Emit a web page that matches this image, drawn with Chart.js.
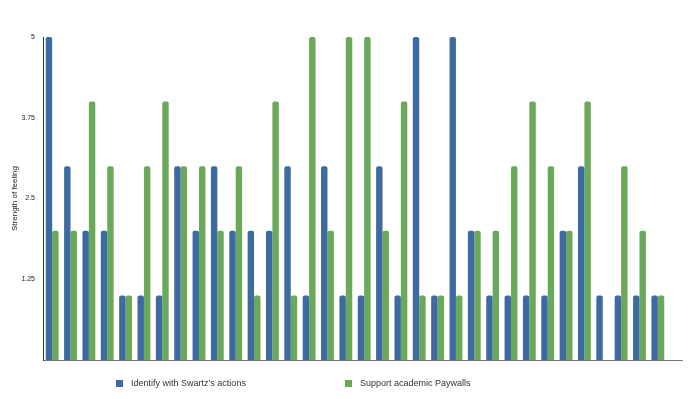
<!DOCTYPE html>
<html>
<head>
<meta charset="utf-8">
<script src="https://cdn.jsdelivr.net/npm/chart.js@4"></script>
<style>
  html, body { margin: 0; padding: 0; background: #fff; }
  #wrap { position: relative; width: 700px; height: 399px; }
  #legend { position: absolute; left: 0; top: 378px; width: 700px; font-family: "Liberation Sans", Arial, sans-serif; font-size: 9px; color: #333; }
  .item { position: absolute; top: 0; display: flex; align-items: center; }
  .box { width: 7px; height: 7px; margin-right: 8px; }
</style>
</head>
<body>
<div id="wrap">
  <canvas id="chart" width="700" height="399"></canvas>
  <div id="legend"></div>
</div>
<script>
const categorias = Array.from({ length: 34 }, (_, i) => String(i + 1));
const swartz = [5, 3, 2, 2, 1, 1, 1, 3, 2, 3, 2, 2, 2, 3, 1, 3, 1, 1, 3, 1, 5, 1, 5, 2, 1, 1, 1, 1, 2, 3, 1, 1, 1, 1];
const paywalls = [2, 2, 4, 3, 1, 3, 4, 3, 3, 2, 3, 1, 4, 1, 5, 2, 5, 5, 2, 4, 1, 1, 1, 2, 2, 3, 4, 3, 2, 4, 0, 3, 2, 1];
const ticksY = [1.25, 2.5, 3.75, 5];
const nombres = ["Identify with Swartz\u2019s actions", "Support academic Paywalls"];
const colores = ["#3d6aa1", "#6aa85a"];

// extiende la linea del eje x hacia la derecha, como en la imagen
const ejeExtendido = {
  id: "ejeExtendido",
  afterDraw(chart) {
    const { ctx, chartArea } = chart;
    ctx.save();
    ctx.strokeStyle = "#777";
    ctx.lineWidth = 1;
    ctx.beginPath();
    ctx.moveTo(chartArea.left, chartArea.bottom + 0.5);
    ctx.lineTo(683, chartArea.bottom + 0.5);
    ctx.stroke();
    ctx.beginPath();
    ctx.strokeStyle = "#333";
    ctx.moveTo(chartArea.left + 0.5, chartArea.top);
    ctx.lineTo(chartArea.left + 0.5, chartArea.bottom + 1);
    ctx.stroke();
    ctx.restore();
  }
};

const grafico = new Chart(document.getElementById("chart"), {
  type: "bar",
  data: {
    labels: categorias,
    datasets: [
      { label: nombres[0], data: swartz, backgroundColor: colores[0] },
      { label: nombres[1], data: paywalls, backgroundColor: colores[1] }
    ]
  },
  options: {
    responsive: false,
    animation: false,
    layout: { padding: { left: 0, right: 33, top: 37, bottom: 39 } },
    datasets: {
      bar: { categoryPercentage: 0.7, barPercentage: 1, borderRadius: { topLeft: 2, topRight: 2 }, borderSkipped: "bottom" }
    },
    plugins: { legend: { display: false }, tooltip: { enabled: false } },
    scales: {
      x: {
        grid: { display: false, drawTicks: false },
        border: { display: false },
        ticks: { display: false }
      },
      y: {
        min: 0,
        max: 5,
        afterBuildTicks: (scale) => { scale.ticks = ticksY.map(v => ({ value: v })); },
        afterFit: (scale) => { scale.width = 43; },
        grid: { display: false, drawTicks: false },
        border: { display: false },
        ticks: {
          padding: 8,
          color: "#222",
          font: { family: "Liberation Sans", size: 7 },
          callback: (v) => String(v)
        },
        title: {
          display: true,
          text: "Strength of feeling",
          color: "#222",
          font: { family: "Liberation Sans", size: 8 },
          padding: { top: 10, bottom: 0 }
        }
      }
    }
  },
  plugins: [ejeExtendido]
});

const leyenda = document.getElementById("legend");
const posiciones = [116, 345];
grafico.data.datasets.forEach((d, i) => {
  const el = document.createElement("div");
  el.className = "item";
  el.style.left = posiciones[i] + "px";
  el.innerHTML = `<span class="box" style="background:${d.backgroundColor}"></span><span>${d.label}</span>`;
  leyenda.appendChild(el);
});
</script>
</body>
</html>
